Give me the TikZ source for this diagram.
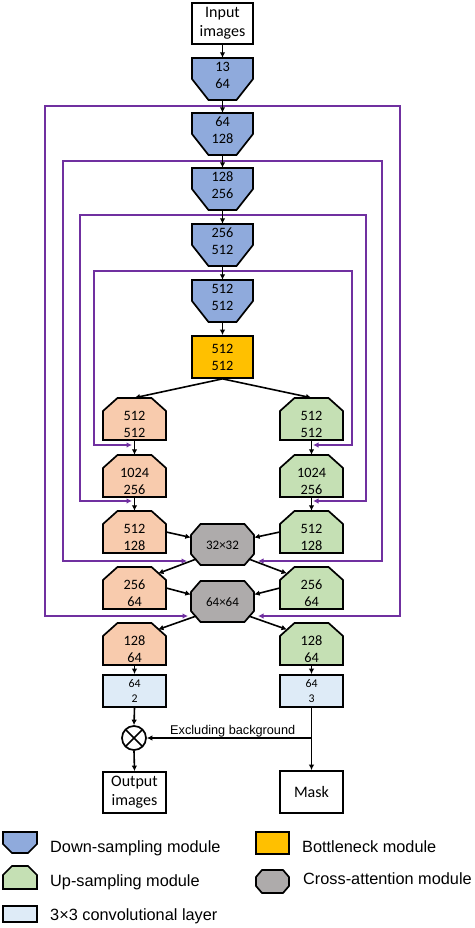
\documentclass[tikz,border=0pt]{standalone}
\usepackage{fontspec}
\setmainfont{Carlito}
\newfontfamily\arialf{Liberation Sans}
\usetikzlibrary{arrows.meta,calc}
\definecolor{dsblue}{HTML}{8FAADC}
\definecolor{usorange}{HTML}{F8CBAD}
\definecolor{usgreen}{HTML}{C5E0B4}
\definecolor{bnyellow}{HTML}{FFC000}
\definecolor{cagray}{HTML}{AEABAB}
\definecolor{convblue}{HTML}{DEEBF7}
\definecolor{skippurple}{HTML}{7030A0}
\tikzset{
  outline/.style={draw=black, line width=1.7pt, line join=miter},
  blk/.style={rectangle, inner sep=0pt, draw=none},
  numtxt/.style={align=center, inner sep=0pt, font=\fontsize{14.3}{17}\selectfont},
  plainbox/.style={rectangle, draw=black, line width=1.7pt, fill=white, align=center, inner sep=0pt,
    minimum width=61pt, minimum height=41pt, font=\fontsize{16}{19}\selectfont},
  convbox/.style={rectangle, draw=black, line width=1.7pt, fill=convblue, align=center, inner sep=0pt,
    minimum width=63pt, minimum height=32pt, font=\fontsize{11.8}{15.5}\selectfont},
  arr/.style={draw=black, line width=1.6pt, -{Latex[length=5.5pt,width=5.5pt]}},
  skipline/.style={draw=skippurple, line width=1.8pt, -{Latex[length=5.5pt,width=5.5pt]}},
  legtxt/.style={anchor=base west, inner sep=0pt, font=\arialf\fontsize{16.3}{19}\selectfont},
}
% down-sampling block: name, xc, ytop, text
\newcommand{\DownBlk}[4]{%
  \draw[outline, fill=dsblue] ({#2-30.5},{#3}) -- ({#2+30.5},{#3}) -- ({#2+30.5},{#3+21})
    -- ({#2+14},{#3+42}) -- ({#2-14},{#3+42}) -- ({#2-30.5},{#3+21}) -- cycle;
  \node[blk, minimum width=61pt, minimum height=42pt] (#1) at (#2,{#3+21}) {};
  \node[numtxt] (#1-t) at (#2,{#3+17.5}) {#4};
}
% up-sampling block: name, xc, ytop, fill, text
\newcommand{\UpBlk}[5]{%
  \draw[outline, fill=#4] ({#2-31.5},{#3+13}) -- ({#2-17},{#3}) -- ({#2+17},{#3}) -- ({#2+31.5},{#3+13})
    -- ({#2+31.5},{#3+42}) -- ({#2-31.5},{#3+42}) -- cycle;
  \node[blk, minimum width=63pt, minimum height=42pt] (#1) at (#2,{#3+21}) {};
  \node[numtxt] (#1-t) at (#2,{#3+26.5}) {#5};
}
% cross-attention octagon: name, yc, text
\newcommand{\OctBlk}[3]{%
  \draw[outline, fill=cagray] (200.5,{#2-20.5}) -- (244.5,{#2-20.5}) -- (254,{#2-9.5}) -- (254,{#2+9.5})
    -- (244.5,{#2+20.5}) -- (200.5,{#2+20.5}) -- (191,{#2+9.5}) -- (191,{#2-9.5}) -- cycle;
  \node[blk, minimum width=63pt, minimum height=41pt] (#1) at (222.5,#2) {};
  \node[numtxt, font=\fontsize{13}{15}\selectfont] (#1-t) at (222.5,{#2+1}) {#3};
}
\begin{document}
\begin{tikzpicture}[x=1pt,y=-1pt]
\useasboundingbox (0,0) rectangle (474,928);
\fill[white] (0,0) rectangle (474,928);

% input
\node[plainbox] (input) at (222.5,23.5) {Input\\images};

% down-sampling path
\DownBlk{d1}{222.5}{58}{13\\64}
\DownBlk{d2}{222.5}{113}{64\\128}
\DownBlk{d3}{222.5}{168}{128\\256}
\DownBlk{d4}{222.5}{224}{256\\512}
\DownBlk{d5}{222.5}{280}{512\\512}

% bottleneck
\node[rectangle, draw=black, line width=1.7pt, fill=bnyellow, minimum width=61pt, minimum height=42pt,
  inner sep=0pt] (bn) at (222.5,357) {};
\node[numtxt] (bn-t) at (222.5,357) {512\\512};

% up-sampling blocks
\UpBlk{l1}{134.5}{398}{usorange}{512\\512}
\UpBlk{l2}{134.5}{455}{usorange}{1024\\256}
\UpBlk{l3}{134.5}{511}{usorange}{512\\128}
\UpBlk{l4}{134.5}{567}{usorange}{256\\64}
\UpBlk{l5}{134.5}{623}{usorange}{128\\64}
\UpBlk{r1}{311.5}{398}{usgreen}{512\\512}
\UpBlk{r2}{311.5}{455}{usgreen}{1024\\256}
\UpBlk{r3}{311.5}{511}{usgreen}{512\\128}
\UpBlk{r4}{311.5}{567}{usgreen}{256\\64}
\UpBlk{r5}{311.5}{623}{usgreen}{128\\64}

% cross attention
\OctBlk{ca1}{544.5}{32×32}
\OctBlk{ca2}{601.5}{64×64}

% conv layers
\node[convbox] (cl) at (134.5,691) {64\\2};
\node[convbox] (cr) at (311.5,691) {64\\3};

% multiply
\node[circle, draw=black, line width=1.7pt, minimum size=24pt, inner sep=0pt,
  path picture={\draw[line width=1.7pt] (path picture bounding box.north west) -- (path picture bounding box.south east)
  (path picture bounding box.north east) -- (path picture bounding box.south west);}] (mul) at (134,738) {};

% outputs
\node[plainbox, minimum width=63pt] (out) at (134.5,792.5) {Output\\images};
\node[plainbox, minimum width=63pt, minimum height=42pt] (mask) at (311.5,792) {Mask};

% skip connections (purple)
\coordinate (p1) at (222.5,106);
\coordinate (c1L) at (45,616);   \coordinate (t1L) at (188,616);
\coordinate (c1R) at (400,616);  \coordinate (t1R) at (258,616);
\coordinate (p2) at (222.5,161);
\coordinate (c2L) at (63,561);   \coordinate (t2L) at (187,561);
\coordinate (c2R) at (382,561);  \coordinate (t2R) at (258,561);
\coordinate (p3) at (222.5,215);
\coordinate (c3L) at (80,501);   \coordinate (t3L) at (132,501);
\coordinate (c3R) at (366,501);  \coordinate (t3R) at (313,501);
\coordinate (p4) at (222.5,271);
\coordinate (c4L) at (94,445);   \coordinate (t4L) at (132,445);
\coordinate (c4R) at (352,445);  \coordinate (t4R) at (313,445);
\foreach \i in {1,2,3,4}{
  \draw[skipline] (p\i) -| (c\i L) -- (t\i L);
  \draw[skipline] (p\i) -| (c\i R) -- (t\i R);
}

% black connectors
\draw[arr] (input.south) -- (d1.north);
\draw[arr] (d1.south) -- (d2.north);
\draw[arr] (d2.south) -- (d3.north);
\draw[arr] (d3.south) -- (d4.north);
\draw[arr] (d4.south) -- (d5.north);
\draw[arr] (d5.south) -- (bn.north);
\draw[arr] (bn.south) -- (l1.north);
\draw[arr] (bn.south) -- (r1.north);
\draw[arr] (l1.south) -- (l2.north);
\draw[arr] (l2.south) -- (l3.north);
\draw[arr] (r1.south) -- (r2.north);
\draw[arr] (r2.south) -- (r3.north);
\draw[arr] (l3.east) -- ([yshift=7pt]ca1.west);
\draw[arr] (r3.west) -- ([yshift=7pt]ca1.east);
\draw[arr] ([xshift=5.5pt,yshift=-14.5pt]ca1.west) -- ([xshift=23.5pt,yshift=14.5pt]l4.center);
\draw[arr] ([xshift=-5.5pt,yshift=-14.5pt]ca1.east) -- ([xshift=-24.5pt,yshift=14.5pt]r4.center);
\draw[arr] (l4.east) -- ([yshift=7pt]ca2.west);
\draw[arr] (r4.west) -- ([yshift=7pt]ca2.east);
\draw[arr] ([xshift=5.5pt,yshift=-14.5pt]ca2.west) -- ([xshift=23.5pt,yshift=14.5pt]l5.center);
\draw[arr] ([xshift=-5.5pt,yshift=-14.5pt]ca2.east) -- ([xshift=-24.5pt,yshift=14.5pt]r5.center);
\draw[arr] (l5.south) -- (cl.north);
\draw[arr] (r5.south) -- (cr.north);
\draw[arr] (cl.south) -- (mul.north);
\draw[arr] (mul.south) -- (out.north);
\draw[arr] (cr.south) -- (mask.north);
\coordinate (jn) at (cr.south |- mul.east);
\draw[arr] (jn) -- (mul.east);
\node[anchor=base, inner sep=0pt, font=\arialf\fontsize{12.7}{15}\selectfont] (excl) at (232.7,734) {Excluding background};

% legend
\draw[outline, fill=dsblue] (3,832) -- (37,832) -- (37,844) -- (28,853) -- (12,853) -- (3,844) -- cycle;
\node[legtxt] (lg1) at (50,852) {Down-sampling module};
\draw[outline, fill=usgreen] (3,889) -- (3,875) -- (12,866) -- (28,866) -- (37,875) -- (37,889) -- cycle;
\node[legtxt] (lg2) at (50,886) {Up-sampling module};
\draw[outline, fill=convblue] (3,906) rectangle (37,922);
\node[legtxt] (lg3) at (50,920.5) {3×3 convolutional layer};
\draw[outline, fill=bnyellow] (256,832) rectangle (289,854);
\node[legtxt] (lg4) at (302,852) {Bottleneck module};
\draw[outline, fill=cagray] (262,870) -- (283,870) -- (289,877) -- (289,886) -- (283,893) -- (262,893)
  -- (256,886) -- (256,877) -- cycle;
\node[legtxt] (lg5) at (303,884) {Cross-attention module};
\end{tikzpicture}
\end{document}
